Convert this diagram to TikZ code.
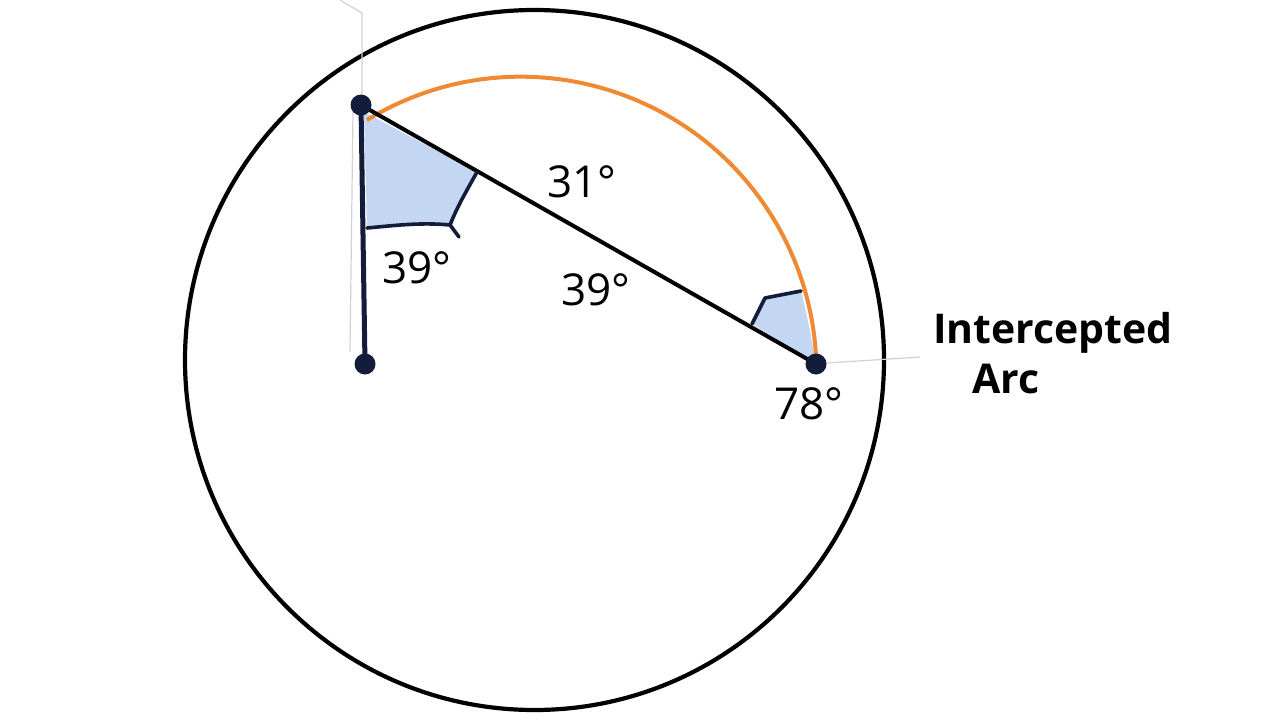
\documentclass[tikz,border=0pt]{standalone}
\usepackage{fontspec}
\setmainfont{Open Sans}
\definecolor{navy}{HTML}{131C3A}
\definecolor{anglefill}{HTML}{C4D7F2}
\definecolor{arcorange}{HTML}{EF8A33}
\definecolor{guidegray}{HTML}{D2D2D2}
\tikzset{
  rim/.style={draw=black,line width=4.2},
  guide/.style={draw=guidegray,line width=1.2},
  legA/.style={draw=navy,line width=5},
  legC/.style={draw=black,line width=4},
  interarc/.style={draw=arcorange,line width=4},
  anglepatch/.style={fill=anglefill},
  angleedge/.style={draw=navy,line width=3.6,line join=round,line cap=round},
  dot/.style={circle,fill=navy,inner sep=0pt,minimum size=21pt},
  deglabel/.style={font=\fontsize{44}{50}\selectfont,text=black,inner sep=0pt},
  sidelabel/.style={font=\bfseries\fontsize{41}{48}\selectfont,text=black,inner sep=0pt,anchor=base west}
}
\begin{document}
\begin{tikzpicture}[x=1pt,y=-1pt]
\useasboundingbox[fill=white] (0,0) rectangle (1280,720);
% circle
\draw[rim] (534.5,360) ellipse [x radius=349.5, y radius=350];
% guide lines
\draw[guide] (340,0) -- (362,13) -- (362,95);
\draw[guide] (353,110) -- (350,352);
\draw[guide] (827,363) -- (920,357);
% points
\coordinate (pA) at (361,105);
\coordinate (pB) at (365,364);
\coordinate (pC) at (816,364);
% angle patches
\fill[anglepatch] (364,112) -- (477,172) .. controls (466,192) and (458,205) .. (450,225)
   .. controls (420,222) and (390,226) .. (367,228) -- cycle;
\fill[anglepatch] (pC) -- (752,324) -- (765,298) -- (801,291) .. controls (807,315) and (812,340) .. (pC) -- cycle;
% intercepted arc
\draw[interarc] (367,120) arc[start angle=-121.4, end angle=-2.3, radius=295.5];
% legs
\draw[legA] (pA) -- (pB);
\draw[legC] (pA) -- (pC);
% angle edges
\draw[angleedge] (477,172) .. controls (466,192) and (458,205) .. (450,225)
   .. controls (420,222) and (390,226) .. (367,228);
\draw[angleedge] (450,225) -- (459,237);
\draw[angleedge] (752,324) -- (765,298) -- (801,291);
% dots
\node[dot] (A) at (pA) {};
\node[dot] (B) at (pB) {};
\node[dot] (C) at (pC) {};
% labels
\node[deglabel] (t31) at (582,182) {31°};
\node[deglabel] (t39a) at (417,268) {39°};
\node[deglabel] (t39b) at (596,290) {39°};
\node[deglabel] (t78) at (809,404) {78°};
\node[sidelabel] (ti) at (933,343) {Intercepted};
\node[sidelabel] (ta) at (972,393) {Arc};
\end{tikzpicture}
\end{document}
